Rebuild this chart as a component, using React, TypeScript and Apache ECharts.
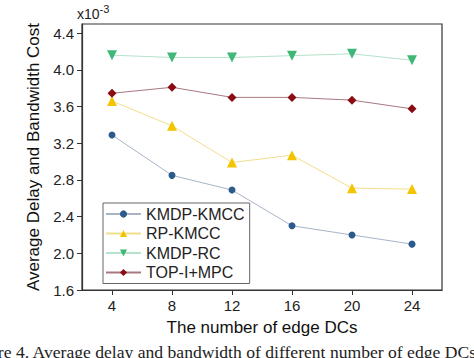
import React, { useEffect, useRef } from "react";
import * as echarts from "echarts";

const xValues = [4, 8, 12, 16, 20, 24];
const xTicks = [4, 8, 12, 16, 20, 24];
const yTicks = [1.6, 2.0, 2.4, 2.8, 3.2, 3.6, 4.0, 4.4];
const seriesNames = ["KMDP-KMCC", "RP-KMCC", "KMDP-RC", "TOP-I+MPC"];
const kmdpKmcc = [3.29, 2.85, 2.69, 2.3, 2.2, 2.1];
const rpKmcc = [3.66, 3.39, 2.99, 3.07, 2.71, 2.7];
const kmdpRc = [4.16, 4.135, 4.135, 4.155, 4.175, 4.105];
const topIMpc = [3.745, 3.81, 3.7, 3.7, 3.67, 3.575];

const FONT = "Liberation Sans, Arial, sans-serif";

export default function App() {
  const ref = useRef<HTMLDivElement>(null);
  useEffect(() => {
    if (!ref.current) return;
    const chart = echarts.init(ref.current, undefined, { renderer: "svg" });
    const mk = (
      name: string,
      vals: number[],
      symbol: string,
      size: number,
      marker: string,
      line: string,
      rotate = 0
    ) => ({
      name,
      type: "line",
      data: xValues.map((x, i) => [x, vals[i]]),
      symbol,
      symbolSize: size,
      symbolRotate: rotate,
      showSymbol: true,
      itemStyle: { color: marker, borderWidth: 0 },
      lineStyle: { color: line, width: 1 },
      z: 3,
    });
    chart.setOption({
      animation: false,
      backgroundColor: "#fff",
      textStyle: { fontFamily: FONT },
      grid: {
        left: 82,
        right: 32,
        top: 24,
        bottom: 68,
        show: true,
        borderColor: "#333",
        borderWidth: 1.2,
        backgroundColor: "transparent",
      },
      xAxis: {
        type: "value",
        min: 2,
        max: 26,
        name: "The number of edge DCs",
        nameLocation: "middle",
        nameGap: 29,
        nameTextStyle: { fontSize: 17, color: "#111", fontFamily: FONT },
        axisLine: { show: true, lineStyle: { color: "#333", width: 1.2 } },
        axisTick: {
          show: true,
          inside: false,
          length: 5,
          customValues: xTicks,
          lineStyle: { color: "#333" },
        },
        axisLabel: {
          customValues: xTicks,
          fontSize: 15,
          color: "#222",
          margin: 8,
          fontFamily: FONT,
        },
        splitLine: { show: false },
      },
      yAxis: {
        type: "value",
        min: 1.6,
        max: 4.5,
        name: "Average Delay and Bandwidth Cost",
        nameLocation: "middle",
        nameGap: 36,
        nameTextStyle: { fontSize: 17, color: "#111", fontFamily: FONT },
        axisLine: { show: true, lineStyle: { color: "#333", width: 1.2 } },
        axisTick: {
          show: true,
          inside: false,
          length: 5,
          customValues: yTicks,
          lineStyle: { color: "#333" },
        },
        axisLabel: {
          customValues: yTicks,
          fontSize: 15,
          color: "#222",
          margin: 8,
          fontFamily: FONT,
          formatter: (v: number) => v.toFixed(1),
        },
        splitLine: { show: false },
      },
      legend: {
        data: seriesNames,
        orient: "vertical",
        left: 103,
        top: 203,
        padding: [3, 5, 3, 2],
        itemWidth: 35,
        itemHeight: 9,
        itemGap: 3.5,
        borderColor: "#666",
        borderWidth: 1,
        backgroundColor: "#fff",
        textStyle: { fontSize: 16, color: "#222", fontFamily: FONT, padding: [0, 0, 0, 0] },
      },
      graphic: [
        {
          type: "text",
          left: 77,
          top: 3,
          style: {
            text: "{a|x10}{b|-3}",
            rich: {
              a: { fontSize: 14, fontFamily: FONT, fill: "#222", verticalAlign: "bottom", lineHeight: 18 },
              b: { fontSize: 11, fontFamily: FONT, fill: "#222", verticalAlign: "top", lineHeight: 18, padding: [0, 0, 8, 0] },
            },
          },
        },
        {
          type: "text",
          x: 476,
          y: 343,
          style: {
            text: "Figure 4. Average delay and bandwidth of different number of edge DCs",
            font: '17.6px "Liberation Serif", "Times New Roman", serif',
            fill: "#222",
            textAlign: "right",
            textVerticalAlign: "top",
          },
        },
      ],
      series: [
        mk(seriesNames[0], kmdpKmcc, "circle", 7, "#2b5b8c", "#a8b4c8"),
        mk(seriesNames[1], rpKmcc, "triangle", 10, "#f5c400", "#f2df8e"),
        mk(seriesNames[2], kmdpRc, "triangle", 10, "#3fb877", "#b6e2ca", 180),
        mk(seriesNames[3], topIMpc, "diamond", 9, "#8a0b12", "#a87880"),
      ],
    });
    return () => chart.dispose();
  }, []);
  return (
    <div
      ref={ref}
      style={{ position: "fixed", left: 0, top: 0, width: 474, height: 358 }}
    />
  );
}
